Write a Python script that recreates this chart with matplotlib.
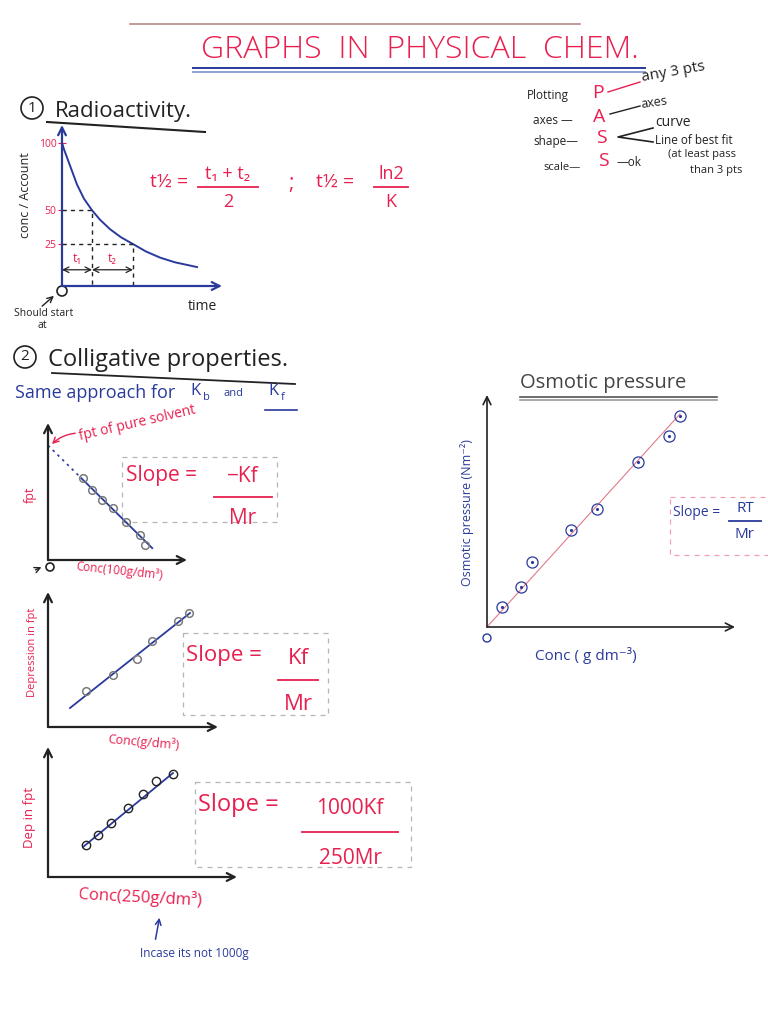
import matplotlib
matplotlib.use("Agg")
import matplotlib.pyplot as plt
from matplotlib.patches import Rectangle, Circle

plt.rcParams['font.family'] = ['Open Sans', 'DejaVu Sans']

RED = '#e8204f'
BLUE = '#2a3a9c'
INK = '#222222'
GREY = '#7a7a7a'

W, H = 768, 1024

# ====== data read off the notes ======
# radioactive decay curve
decay_t = [0, 0.2, 0.5, 0.9, 1.5, 2.2, 3.0, 3.8, 4.8, 5.9, 7.1, 8.4, 9.8, 11.3, 13.5]
decay_count = [100, 95, 89, 81, 69, 58.5, 50, 43, 36, 30, 25, 19.5, 15, 11.5, 8]
half_t1 = 3.0
half_t2 = 7.1
count_ticks = [25, 50, 100]
count_labels = ['25', '50', '100']

# freezing point vs conc (100 g/dm3)
fpt_conc = [2.5, 3.2, 3.9, 4.7, 5.6, 6.6, 7.0]
fpt_val = [5.9, 5.0, 4.3, 3.7, 2.7, 1.8, 1.1]
fpt_fit_x = [2.4, 7.5]
fpt_fit_y = [5.85, 0.85]
fpt_pure = 8.2

# depression in fpt vs conc (g/dm3)
dep_conc = [3.8, 6.5, 8.9, 10.4, 13.0, 14.1]
dep_val = [3.6, 5.2, 6.8, 8.6, 10.6, 11.4]
dep_fit_x = [2.2, 14.2]
dep_fit_y = [1.9, 11.4]

# depression in fpt vs conc (250 g/dm3)
dep250_conc = [3.8, 5.0, 6.3, 8.0, 9.5, 10.8, 12.5]
dep250_val = [3.2, 4.2, 5.4, 6.9, 8.3, 9.6, 10.3]
dep250_fit_x = [3.5, 12.5]
dep250_fit_y = [3.0, 10.4]

# osmotic pressure vs conc
osm_conc = [1.5, 3.4, 4.5, 8.4, 11.0, 15.1, 18.2, 19.3]
osm_press = [2.0, 4.0, 6.5, 9.7, 11.8, 16.5, 19.1, 21.1]
osm_fit_x = [0, 19.3]
osm_fit_y = [0, 21.3]


fig = plt.figure(figsize=(W / 100, H / 100), dpi=100)
fig.patch.set_facecolor('white')

# page layer, in pixel coords
bg = fig.add_axes([0, 0, 1, 1])
bg.set_xlim(0, W)
bg.set_ylim(H, 0)
bg.axis('off')


def px_axes(x0, y0, x1, y1):
    ax = fig.add_axes([x0 / W, 1 - y1 / H, (x1 - x0) / W, (y1 - y0) / H])
    ax.patch.set_alpha(0)
    for s in ax.spines.values():
        s.set_visible(False)
    ax.set_xticks([])
    ax.set_yticks([])
    return ax


def hand_axes(ax, color, lw=1.6):
    arrow = dict(arrowstyle='->', color=color, lw=lw, shrinkA=0, shrinkB=0,
                 mutation_scale=14)
    ax.annotate('', xy=(0, 1), xytext=(0, 0), xycoords='axes fraction', arrowprops=arrow)
    ax.annotate('', xy=(1, 0), xytext=(0, 0), xycoords='axes fraction', arrowprops=arrow)


def note(x, y, s, color=INK, size=11, **kw):
    kw.setdefault('ha', 'left')
    kw.setdefault('va', 'center')
    bg.text(x, y, s, color=color, fontsize=size, **kw)


def dashed_box(x0, y0, x1, y1, color='#b5b5b5'):
    bg.add_patch(Rectangle((x0, y0), x1 - x0, y1 - y0, fill=False, ec=color,
                           ls=(0, (4, 4)), lw=0.9))


def fraction(x, y, top, bottom, color, size, width, gap=13):
    note(x + width / 2, y - gap, top, color, size, ha='center')
    bg.plot([x, x + width], [y, y], color=color, lw=1.3)
    note(x + width / 2, y + gap + 2, bottom, color, size, ha='center')


# paper edge
bg.plot([130, 580], [24, 24], color='#8a3a30', lw=1.2, alpha=0.6)

# ====== title ======
note(420, 50, 'GRAPHS  IN  PHYSICAL  CHEM.', RED, 23, ha='center', fontweight='light')
bg.plot([193, 645], [68, 68], color=BLUE, lw=1.4)
bg.plot([193, 645], [72, 72], color='#8fa0d8', lw=1.4)

# ====== PASS mnemonic ======
note(527, 95, 'Plotting', INK, 8.5)
note(592, 93, 'P', RED, 14)
bg.plot([608, 640], [92, 82], color=RED, lw=1)
note(640, 72, 'any 3 pts', INK, 11, rotation=10)
note(533, 120, 'axes —', INK, 8.5)
note(593, 117, 'A', RED, 14)
bg.plot([610, 640], [114, 106], color=INK, lw=1)
note(640, 103, 'axes', INK, 9, rotation=8)
note(533, 141, 'shape—', INK, 8.5)
note(596, 138, 'S', RED, 14)
bg.plot([653, 618, 653], [128, 137, 142], color=INK, lw=1.2)
note(655, 123, 'curve', INK, 10)
note(655, 140, 'Line of best fit', INK, 8.5)
note(543, 167, 'scale—', INK, 8)
note(598, 161, 'S', RED, 14)
note(617, 162, '—ok', INK, 8.5)
note(668, 155, '(at least pass', INK, 8)
note(690, 170, 'than 3 pts', INK, 8)

# ====== 1 radioactivity ======
bg.add_patch(Circle((32, 108), 11, fill=False, ec=INK, lw=1.2))
note(32, 108, '1', INK, 11, ha='center')
note(55, 112, 'Radioactivity.', INK, 16)
bg.plot([47, 205], [122, 132], color=INK, lw=1.5)

ax = px_axes(62, 125, 222, 286)
ax.set_xlim(0, 16)
ax.set_ylim(-6, 113)
hand_axes(ax, BLUE)
ax.plot(decay_t, decay_count, color=BLUE, lw=1.4)
ax.plot([0, half_t1, half_t1], [50, 50, -6], color=INK, ls=(0, (3, 3)), lw=1)
ax.plot([0, half_t2, half_t2], [25, 25, -6], color=INK, ls=(0, (3, 3)), lw=1)
ax.annotate('', xy=(half_t1, 6), xytext=(0, 6),
            arrowprops=dict(arrowstyle='<->', color=INK, lw=0.9, shrinkA=0, shrinkB=0))
ax.annotate('', xy=(half_t2, 6), xytext=(half_t1, 6),
            arrowprops=dict(arrowstyle='<->', color=INK, lw=0.9, shrinkA=0, shrinkB=0))
ax.text(half_t1 / 2, 14, 't₁', color=RED, fontsize=9, ha='center', va='center')
ax.text((half_t1 + half_t2) / 2, 14, 't₂', color=RED, fontsize=9, ha='center', va='center')
ax.set_yticks(count_ticks)
ax.set_yticklabels(count_labels)
ax.tick_params(axis='y', colors=RED, labelsize=7.5, length=6, direction='inout', pad=1)
for lab in ax.get_yticklabels():
    lab.set_color(RED)

note(26, 195, 'conc / Account', INK, 9, rotation=90, ha='center')
note(188, 307, 'time', INK, 10)
bg.add_patch(Circle((62, 291), 5, fill=False, ec=INK, lw=1.2))
bg.annotate('', xy=(56, 294), xytext=(40, 308),
            arrowprops=dict(arrowstyle='->', color=INK, lw=1))
note(14, 314, 'Should start', INK, 7.5)
note(38, 325, 'at', INK, 7.5)

# half-life formulas
note(150, 182, 't½ =', RED, 14)
fraction(198, 187, 't₁ + t₂', '2', RED, 13, 60)
note(288, 184, ';', RED, 15)
note(316, 182, 't½ =', RED, 14)
fraction(374, 187, 'ln2', 'K', RED, 13, 34)

# ====== 2 colligative properties ======
bg.add_patch(Circle((25, 357), 11, fill=False, ec=INK, lw=1.2))
note(25, 357, '2', INK, 11, ha='center')
note(48, 360, 'Colligative properties.', INK, 17)
bg.plot([52, 295], [373, 384], color=INK, lw=1.3)
note(15, 393, 'Same approach for', BLUE, 13)
note(190, 391, 'K', BLUE, 12)
note(203, 397, 'b', BLUE, 8)
note(223, 393, 'and', BLUE, 8)
note(268, 391, 'K', BLUE, 12)
note(281, 398, 'f', BLUE, 8)
bg.plot([265, 297], [410, 410], color=BLUE, lw=1.2)

# fpt plot
ax = px_axes(48, 423, 187, 560)
ax.set_xlim(0, 10)
ax.set_ylim(0, 9.8)
hand_axes(ax, INK)
ax.plot(fpt_fit_x, fpt_fit_y, color=BLUE, lw=1.3)
ax.plot([0, fpt_fit_x[0]], [fpt_pure, fpt_fit_y[0]], color=BLUE, ls=(0, (1.5, 2.5)), lw=1.2)
ax.plot(fpt_conc, fpt_val, 'o', mfc='none', mec=GREY, ms=5.5, mew=1.1)
bg.add_patch(Circle((50, 567), 4, fill=False, ec=INK, lw=1.2))
bg.annotate('', xy=(44, 566), xytext=(33, 571),
            arrowprops=dict(arrowstyle='->', color=INK, lw=1))
note(78, 423, 'fpt of pure solvent', RED, 10, rotation=13)
bg.annotate('', xy=(50, 446), xytext=(78, 433),
            arrowprops=dict(arrowstyle='->', color=RED, lw=1,
                            connectionstyle='arc3,rad=0.2'))
note(30, 495, 'fpt', RED, 9, rotation=90, ha='center')
note(75, 571, 'Conc(100g/dm³)', RED, 8.5, rotation=-6)
dashed_box(122, 457, 277, 522)
note(126, 476, 'Slope =', RED, 15)
fraction(214, 497, '−Kf', 'Mr', RED, 15, 58, gap=20)

# depression in fpt plot
ax = px_axes(48, 592, 218, 727)
ax.set_xlim(0, 17)
ax.set_ylim(0, 13.5)
hand_axes(ax, INK)
ax.plot(dep_fit_x, dep_fit_y, color=BLUE, lw=1.3)
ax.plot(dep_conc, dep_val, 'o', mfc='none', mec=GREY, ms=5.5, mew=1.1)
note(32, 652, 'Depression in fpt', RED, 8, rotation=90, ha='center')
note(107, 742, 'Conc(g/dm³)', RED, 9, rotation=-5)
dashed_box(183, 633, 328, 715)
note(186, 655, 'Slope =', RED, 16)
fraction(278, 680, 'Kf', 'Mr', RED, 16, 40, gap=22)

# depression in fpt (250 g) plot
ax = px_axes(48, 747, 237, 877)
ax.set_xlim(0, 18.9)
ax.set_ylim(0, 13)
hand_axes(ax, INK)
ax.plot(dep250_fit_x, dep250_fit_y, color=BLUE, lw=1.3)
ax.plot(dep250_conc, dep250_val, 'o', mfc='none', mec=INK, ms=6, mew=1)
note(30, 818, 'Dep in fpt', RED, 9.5, rotation=90, ha='center')
note(78, 897, 'Conc(250g/dm³)', RED, 12, rotation=-3)
bg.annotate('', xy=(160, 915), xytext=(155, 942),
            arrowprops=dict(arrowstyle='->', color=BLUE, lw=1.1))
note(140, 953, 'Incase its not 1000g', BLUE, 8.5)
dashed_box(195, 782, 411, 867)
note(198, 805, 'Slope =', RED, 17)
fraction(302, 832, '1000Kf', '250Mr', RED, 15, 96, gap=24)

# ====== osmotic pressure ======
note(520, 383, 'Osmotic pressure', '#444444', 14.5)
bg.plot([520, 717], [397, 397], color='#555555', lw=1.2)
bg.plot([520, 717], [400, 400], color='#999999', lw=1.2)

ax = px_axes(487, 395, 735, 627)
ax.set_xlim(0, 24.8)
ax.set_ylim(0, 23.2)
hand_axes(ax, INK, lw=1.2)
ax.plot(osm_fit_x, osm_fit_y, color='#e07a8a', lw=0.8)
ax.plot(osm_conc, osm_press, 'o', mfc='none', mec=BLUE, ms=8, mew=0.9)
ax.plot(osm_conc, osm_press, '.', color=BLUE, ms=2.5)
bg.add_patch(Circle((487, 638), 4, fill=False, ec=BLUE, lw=1))
note(467, 513, 'Osmotic pressure (Nm⁻²)', BLUE, 9, rotation=90, ha='center')
note(535, 655, 'Conc ( g dm⁻³)', BLUE, 11)
dashed_box(670, 497, 775, 555, color='#f0a0b0')
note(673, 513, 'Slope =', BLUE, 10)
fraction(729, 521, 'RT', 'Mr', BLUE, 11, 32, gap=12)

fig.savefig('out.png', dpi=100)
